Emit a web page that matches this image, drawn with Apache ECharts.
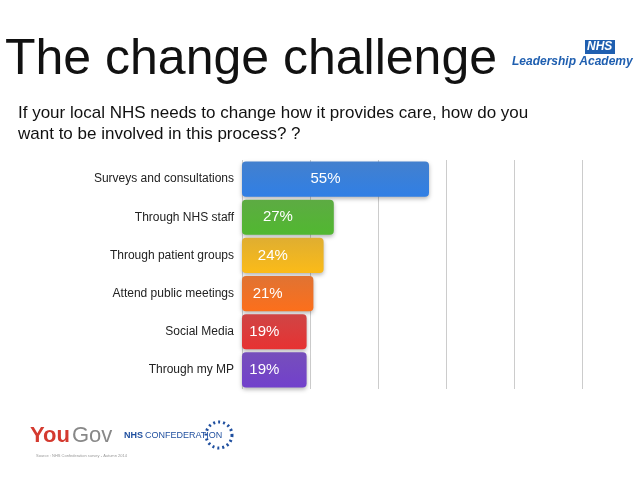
<!DOCTYPE html>
<html>
<head>
<meta charset="utf-8">
<script src="https://cdn.jsdelivr.net/npm/echarts@6/dist/echarts.min.js"></script>
<style>
    html, body { margin: 0; padding: 0; background: #fff; }
    #chart { width: 638px; height: 479px; }
</style>
</head>
<body>
<div id="chart"></div>
<script>
// 类目和数值
var categories = [
    "Surveys and consultations",
    "Through NHS staff",
    "Through patient groups",
    "Attend public meetings",
    "Social Media",
    "Through my MP"
];
var values = [55, 27, 24, 21, 19, 19];
var barColors = ["#2a6fc8", "#47a02a", "#dba315", "#dc6118", "#c92c2c", "#6438b2"];

(function() {
    var myChart = echarts.init(document.getElementById("chart"));
    var data = values.map(function(v, i) {
        return {
            value: v,
            itemStyle: {
                color: new echarts.graphic.LinearGradient(0, 0, 0, 1, [
                    { offset: 0, color: echarts.color.lift(barColors[i], 0.12) },
                    { offset: 1, color: echarts.color.lift(barColors[i], -0.15) }
                ])
            }
        };
    });
    var option = {
        title: [{
            text: "The change challenge",
            left: 0, top: 30,
            textStyle: { fontFamily: "Helvetica, Liberation Sans, Arial", fontSize: 50, fontWeight: "normal", color: "#111" }
        }, {
            text: "If your local NHS needs to change how it provides care, how do you\nwant to be involved in this process? ?",
            left: 13, top: 98,
            textStyle: { fontFamily: "Liberation Sans, Arial", fontSize: 17, fontWeight: "normal", color: "#111", lineHeight: 21 }
        }],
        graphic: [
            { type: "rect", left: 585, top: 40, shape: { width: 30, height: 14 }, style: { fill: "#1f5fb0" } },
            { type: "text", left: 587, top: 41, style: { text: "NHS", fill: "#fff", font: "italic bold 12px Liberation Sans" } },
            { type: "text", left: 512, top: 56, style: { text: "Leadership Academy", fill: "#1f5fb0", font: "italic bold 12px Liberation Sans" } },
            { type: "text", left: 30, top: 425, style: { text: "You", fill: "#d43a2f", font: "bold 22px Liberation Sans" } },
            { type: "text", left: 72, top: 425, style: { text: "Gov", fill: "#888", font: "22px Liberation Sans" } },
            { type: "text", left: 124, top: 431, style: { text: "NHS", fill: "#1f4f9f", font: "bold 9px Liberation Sans" } },
            { type: "text", left: 145, top: 431, style: { text: "CONFEDERATION", fill: "#1f4f9f", font: "9px Liberation Sans" } },
            { type: "circle", shape: { cx: 219, cy: 435, r: 13 }, style: { fill: "none", stroke: "#1f4f9f", lineWidth: 3, lineDash: [2, 3] } },
            { type: "text", left: 36, top: 454, style: { text: "Source : NHS Confederation survey - Autumn 2014", fill: "#999", font: "4px Liberation Sans" } }
        ],
        grid: { left: 242, right: 56, top: 160, bottom: 90 },
        xAxis: {
            type: "value", min: 0, max: 100, interval: 20,
            axisLabel: { show: false },
            axisLine: { show: false },
            axisTick: { show: false },
            splitLine: { lineStyle: { color: "#ccc" } }
        },
        yAxis: {
            type: "category", inverse: true, data: categories,
            axisLine: { show: false },
            axisTick: { show: false },
            axisLabel: { color: "#222", fontSize: 12, fontFamily: "Liberation Sans, Arial", margin: 8 }
        },
        series: [{
            type: "bar",
            data: data,
            barWidth: "92%",
            itemStyle: { borderRadius: 4, shadowColor: "rgba(0,0,0,0.3)", shadowBlur: 4, shadowOffsetY: 2 },
            label: {
                show: true, position: "inside", offset: [-10, 0], color: "#fff", fontSize: 15,
                formatter: "{c}%"
            }
        }]
    };
    myChart.setOption(option);
})();
</script>
</body>
</html>
